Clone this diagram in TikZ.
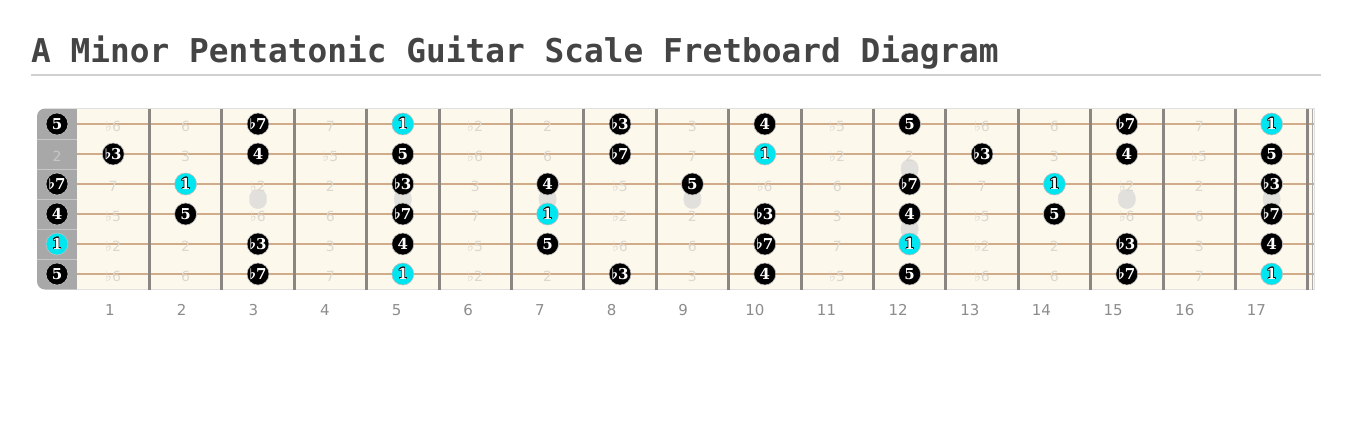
\documentclass[tikz,border=0pt]{standalone}
\usepackage{fontspec}
\usepackage{contour}
\usepackage{tikz}
\newfontfamily\titlefont{DejaVu Sans Mono}
\newfontfamily\numfont{DejaVu Sans}
\newfontfamily\dotfont{DejaVu Serif}
\definecolor{inkgray}{HTML}{444444}
\definecolor{rulegray}{HTML}{D0D0D0}
\definecolor{boardcream}{HTML}{FDF8EC}
\definecolor{nutgray}{HTML}{A8A8A8}
\definecolor{stringtan}{HTML}{D0AC8A}
\definecolor{fretgray}{HTML}{8C8682}
\definecolor{inlaygray}{HTML}{E2E0DC}
\definecolor{ghostgray}{HTML}{DDD8CF}
\definecolor{rootcyan}{HTML}{00E6F0}
\definecolor{numgray}{HTML}{8C8C8C}
\contourlength{0.5pt}
\newcommand{\ivlname}[1]{\ifcase#1 1\or $\flat$2\or 2\or $\flat$3\or 3\or 4\or $\flat$5\or 5\or $\flat$6\or 6\or $\flat$7\or 7\fi}
\newcommand{\ghostname}[1]{\ifcase#1 1\or ♭2\or 2\or ♭3\or 3\or 4\or ♭5\or 5\or ♭6\or 6\or ♭7\or 7\fi}
\newcommand{\dotlabel}[1]{{\color{white}\contour{black}{#1}}}

\begin{document}
\begin{tikzpicture}[x=1pt,y=-1pt,
  notedot/.style={circle,fill=black,draw=black!25,line width=0.6pt,minimum size=22pt,inner sep=0pt,
                  font=\dotfont\bfseries\boldmath\fontsize{15}{15}\selectfont},
  rootdot/.style={notedot,fill=rootcyan},
  ghost/.style={inner sep=0pt,text=ghostgray,font=\numfont\fontsize{14}{14}\selectfont},
  nutghost/.style={ghost,text=black!22},
  inlay/.style={rectangle,rounded corners=8pt,fill=inlaygray,draw=black!12,minimum width=17pt,minimum height=19pt},
  fretnum/.style={inner sep=0pt,text=numgray,font=\numfont\fontsize{15}{15}\selectfont}]
  \useasboundingbox (0,0) rectangle (1352,434);
  % Title
  \node[anchor=base west,inner sep=0pt,text=inkgray,font=\titlefont\bfseries\fontsize{32.8}{33}\selectfont] (title) at (31,62)
    {A Minor Pentatonic Guitar Scale Fretboard Diagram};
  \draw[rulegray,line width=2pt] (31,75) -- (1321,75);
  % Nut and board
  \fill[nutgray,rounded corners=8pt] (37,108.5) rectangle (90,289.5);
  \fill[boardcream] (77,108.5) rectangle (1314,289.5);
  \draw[black!12] (77,108.5) -- (1314,108.5) -- (1314,289.5) -- (77,289.5);
  \foreach \y in {139,169,199,229,259}
    \draw[black!22,line width=0.8pt] (37,\y) -- (77,\y);
  % Inlays
  \foreach \k in {3,5,7,9,15,17}
    \node[inlay] (dot-\k) at ({77+72.4*(\k-0.5)},199) {};
  \node[inlay] (dot-12a) at ({77+72.4*11.5},169) {};
  \node[inlay] (dot-12b) at ({77+72.4*11.5},229) {};
  % Strings and frets
  \foreach \s in {1,...,6}
    \draw[stringtan,line width=2.5pt] (77,94+30*\s) -- (1314,94+30*\s);
  \foreach \k in {1,...,17}
    \draw[fretgray,line width=3pt] ({77+72.4*\k},108.5) -- ({77+72.4*\k},289.5);
  \draw[fretgray!70,line width=1.5pt] (1312.5,108.5) -- (1312.5,289.5);
  % Notes: string / tuning in semitones above A
  \foreach \s/\t in {1/7,2/2,3/10,4/5,5/0,6/7}{
    \foreach \k in {0,...,17}{
      \pgfmathtruncatemacro\iv{mod(\t+\k,12)}
      \pgfmathtruncatemacro\insc{(\iv==3)||(\iv==5)||(\iv==7)||(\iv==10)}
      \pgfmathsetmacro\xx{\k==0 ? 57 : 77+72.4*(\k-0.5)}
      \ifnum\iv=0
        \node[rootdot] (n-\s-\k) at (\xx,94+30*\s) {\dotlabel{1}};
      \else\ifnum\insc=1
        \node[notedot] (n-\s-\k) at (\xx,94+30*\s) {\dotlabel{\ivlname{\iv}}};
      \else\ifnum\k=0
        \node[nutghost] (g-\s-\k) at (\xx,96+30*\s) {\ghostname{\iv}};
      \else
        \node[ghost] (g-\s-\k) at (\xx,96+30*\s) {\ghostname{\iv}};
      \fi\fi\fi
    }
  }
  % Fret numbers
  \foreach \k in {1,...,17}
    \node[fretnum] (num-\k) at ({110+71.65*(\k-1)},310) {\k};
\end{tikzpicture}
\end{document}
